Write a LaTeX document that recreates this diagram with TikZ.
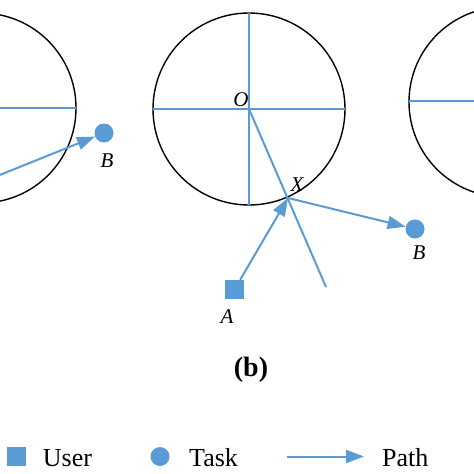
\documentclass[tikz,border=0pt]{standalone}
\usepackage{fontspec}
\setmainfont{Liberation Serif}
\usetikzlibrary{arrows.meta}
\definecolor{ublue}{RGB}{91,155,213}
\begin{document}
\begin{tikzpicture}[x=1pt,y=-1pt,
  ring/.style={draw=black,line width=1.4pt},
  axis/.style={draw=ublue,line width=2pt},
  route/.style={draw=ublue,line width=2pt,-{Triangle[length=18pt,width=13pt]}},
  user/.style={rectangle,fill=ublue,minimum size=19pt,inner sep=0pt},
  task/.style={circle,fill=ublue,minimum size=19pt,inner sep=0pt},
  lab/.style={font=\fontsize{21}{25}\selectfont\itshape,inner sep=0pt},
  leg/.style={font=\fontsize{26}{30}\selectfont,anchor=base west,inner sep=0pt}]
\useasboundingbox (0,0) rectangle (474,474);
\begin{scope}
\clip (0,0) rectangle (474,474);
% left panel
\coordinate (OL) at (-19,108);
\draw[ring] (OL) circle[radius=95];
\draw[axis] (-20,108) -- (76,108);
\coordinate (AL) at (-40,191);
\node[task] (BL) at (104,133) {};
\draw[route] (AL) -- (BL);
\node[lab] (lbl1) at (107,161) {B};
% right panel
\coordinate (OR) at (504,102);
\draw[ring] (OR) circle[radius=95];
\draw[axis] (409,101) -- (480,101);
\end{scope}
% middle panel
\coordinate (O) at (249,109);
\draw[ring] (O) circle[radius=96];
\draw[axis] (153,109) -- (345,109);
\draw[axis] (249,13) -- (249,205);
\coordinate (X) at (288,198);
\coordinate (E) at (326,287);
\draw[axis] (O) -- (E);
\node[user] (A) at (234.5,289.5) {};
\node[task] (B) at (415,229) {};
\draw[route] (A) -- (X);
\draw[route] (X) -- (B);
\node[lab] (lO) at (241,100) {O};
\node[lab] (lX) at (297,185) {X};
\node[lab] (lA) at (227,317) {A};
\node[lab] (lB) at (419,253) {B};
\node[font=\fontsize{28}{32}\selectfont\bfseries,inner sep=0pt] (cap) at (251,370) {(b)};
% legend
\node[user] (lu) at (16.7,456.5) {};
\node[leg] (tu) at (42.7,466) {User};
\node[task] (lt) at (160,456.5) {};
\node[leg] (tt) at (189,466) {Task};
\coordinate (p1) at (287,456.5);
\coordinate (p2) at (364,456.5);
\draw[route] (p1) -- (p2);
\node[leg] (tp) at (382,466) {Path};
\end{tikzpicture}
\end{document}
